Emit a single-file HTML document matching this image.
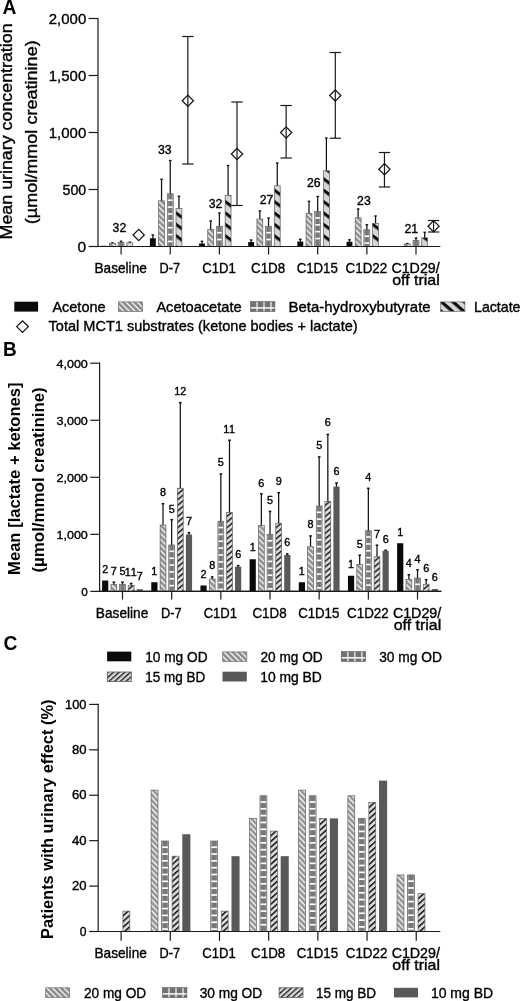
<!DOCTYPE html>
<html><head><meta charset="utf-8"><title>Figure</title>
<style>html,body{margin:0;padding:0;background:#fff}svg{display:block}text{font-family:"Liberation Sans", sans-serif;fill:#000;stroke:#000;stroke-width:0.36px}.b{stroke:none}</style>
</head><body>
<svg width="520" height="1001" viewBox="0 0 520 1001">
<rect width="520" height="1001" fill="#fff"/>
<defs>
<pattern id="aAc" patternUnits="userSpaceOnUse" x="0" y="1.504" width="40" height="4.079" patternTransform="rotate(44)"><rect width="40" height="4.079" fill="#949494"/><rect x="0" y="0" width="40" height="1.187" fill="#ffffff"/></pattern>
<pattern id="aLac" patternUnits="userSpaceOnUse" x="0" y="1.277" width="40" height="9.104" patternTransform="rotate(37)"><rect width="40" height="9.104" fill="#d6d6d6"/><rect x="0" y="0" width="40" height="3.035" fill="#0a0a0a"/></pattern>
<pattern id="bOD20" patternUnits="userSpaceOnUse" x="0" y="3.181" width="40" height="4.079" patternTransform="rotate(44)"><rect width="40" height="4.079" fill="#949494"/><rect x="0" y="0" width="40" height="1.187" fill="#ffffff"/></pattern>
<pattern id="bBD15" patternUnits="userSpaceOnUse" x="0" y="2.790" width="40" height="4.290" patternTransform="rotate(-40)"><rect width="40" height="4.290" fill="#d9d9d9"/><rect x="0" y="0" width="40" height="1.455" fill="#1a1a1a"/></pattern>
<pattern id="cOD20" patternUnits="userSpaceOnUse" x="0" y="3.366" width="40" height="3.939" patternTransform="rotate(46)"><rect width="40" height="3.939" fill="#949494"/><rect x="0" y="0" width="40" height="1.285" fill="#ffffff"/></pattern>
<pattern id="cBD15" patternUnits="userSpaceOnUse" x="0" y="4.109" width="40" height="4.236" patternTransform="rotate(-42)"><rect width="40" height="4.236" fill="#d9d9d9"/><rect x="0" y="0" width="40" height="1.486" fill="#111111"/></pattern>
<pattern id="lAc" patternUnits="userSpaceOnUse" x="0" y="2.970" width="40" height="4.031" patternTransform="rotate(45)"><rect width="40" height="4.031" fill="#8e8e8e"/><rect x="0" y="0" width="40" height="1.202" fill="#ffffff"/></pattern>
<pattern id="lAc2" patternUnits="userSpaceOnUse" x="0" y="3.642" width="40" height="4.031" patternTransform="rotate(45)"><rect width="40" height="4.031" fill="#8e8e8e"/><rect x="0" y="0" width="40" height="1.202" fill="#ffffff"/></pattern>
<pattern id="lAc3" patternUnits="userSpaceOnUse" x="0" y="3.783" width="40" height="4.031" patternTransform="rotate(45)"><rect width="40" height="4.031" fill="#8e8e8e"/><rect x="0" y="0" width="40" height="1.202" fill="#ffffff"/></pattern>
<pattern id="lLac" patternUnits="userSpaceOnUse" x="0" y="3.821" width="40" height="7.472" patternTransform="rotate(41)"><rect width="40" height="7.472" fill="#d6d6d6"/><rect x="0" y="0" width="40" height="3.170" fill="#0a0a0a"/></pattern>
<pattern id="lBD15" patternUnits="userSpaceOnUse" x="0" y="2.504" width="40" height="3.790" patternTransform="rotate(-42)"><rect width="40" height="3.790" fill="#d9d9d9"/><rect x="0" y="0" width="40" height="1.301" fill="#1a1a1a"/></pattern>
<pattern id="lBD15b" patternUnits="userSpaceOnUse" x="0" y="0.029" width="40" height="3.790" patternTransform="rotate(-42)"><rect width="40" height="3.790" fill="#d9d9d9"/><rect x="0" y="0" width="40" height="1.301" fill="#1a1a1a"/></pattern>
</defs>
<text x="2.6" y="13.85" font-size="20" text-anchor="start" font-weight="bold" class="b" textLength="13.9" lengthAdjust="spacingAndGlyphs">A</text>
<line x1="98.0" y1="17.9" x2="98.0" y2="247.05" stroke="#1a1a1a" stroke-width="1.2"/>
<line x1="97.4" y1="246.5" x2="440.2" y2="246.5" stroke="#1a1a1a" stroke-width="1.2"/>
<line x1="88.7" y1="246.5" x2="98.0" y2="246.5" stroke="#1a1a1a" stroke-width="1.2"/>
<text x="86.2" y="252.2" font-size="15.5" text-anchor="end">0</text>
<line x1="88.7" y1="189.5" x2="98.0" y2="189.5" stroke="#1a1a1a" stroke-width="1.2"/>
<text x="86.2" y="195.2" font-size="15.5" text-anchor="end" textLength="23.7" lengthAdjust="spacingAndGlyphs">500</text>
<line x1="88.7" y1="132.5" x2="98.0" y2="132.5" stroke="#1a1a1a" stroke-width="1.2"/>
<text x="86.2" y="138.2" font-size="15.5" text-anchor="end" textLength="37.4" lengthAdjust="spacingAndGlyphs">1,000</text>
<line x1="88.7" y1="75.5" x2="98.0" y2="75.5" stroke="#1a1a1a" stroke-width="1.2"/>
<text x="86.2" y="81.2" font-size="15.5" text-anchor="end" textLength="37.4" lengthAdjust="spacingAndGlyphs">1,500</text>
<line x1="88.7" y1="18.5" x2="98.0" y2="18.5" stroke="#1a1a1a" stroke-width="1.2"/>
<text x="86.2" y="24.2" font-size="15.5" text-anchor="end" textLength="37.4" lengthAdjust="spacingAndGlyphs">2,000</text>
<text x="12.3" y="131.4" font-size="16.8" text-anchor="middle" textLength="216" lengthAdjust="spacingAndGlyphs" transform="rotate(-90 12.3 131.4)">Mean urinary concentration</text>
<text x="36.6" y="132.3" font-size="16.8" text-anchor="middle" textLength="184" lengthAdjust="spacingAndGlyphs" transform="rotate(-90 36.6 132.3)">(µmol/mmol creatinine)</text>
<line x1="121.1" y1="246.5" x2="121.1" y2="254.6" stroke="#1a1a1a" stroke-width="1.2"/>
<line x1="170.25" y1="246.5" x2="170.25" y2="254.6" stroke="#1a1a1a" stroke-width="1.2"/>
<line x1="219.39999999999998" y1="246.5" x2="219.39999999999998" y2="254.6" stroke="#1a1a1a" stroke-width="1.2"/>
<line x1="268.54999999999995" y1="246.5" x2="268.54999999999995" y2="254.6" stroke="#1a1a1a" stroke-width="1.2"/>
<line x1="317.7" y1="246.5" x2="317.7" y2="254.6" stroke="#1a1a1a" stroke-width="1.2"/>
<line x1="366.85" y1="246.5" x2="366.85" y2="254.6" stroke="#1a1a1a" stroke-width="1.2"/>
<line x1="416.0" y1="246.5" x2="416.0" y2="254.6" stroke="#1a1a1a" stroke-width="1.2"/>
<text x="120.65" y="272.6" font-size="14.4" text-anchor="middle" textLength="52.4" lengthAdjust="spacingAndGlyphs">Baseline</text>
<text x="169.8" y="272.6" font-size="14.4" text-anchor="middle" textLength="20.6" lengthAdjust="spacingAndGlyphs">D-7</text>
<text x="218.95" y="272.6" font-size="14.4" text-anchor="middle" textLength="33.5" lengthAdjust="spacingAndGlyphs">C1D1</text>
<text x="268.1" y="272.6" font-size="14.4" text-anchor="middle" textLength="34.2" lengthAdjust="spacingAndGlyphs">C1D8</text>
<text x="317.25" y="272.6" font-size="14.4" text-anchor="middle" textLength="41.2" lengthAdjust="spacingAndGlyphs">C1D15</text>
<text x="366.4" y="272.6" font-size="14.4" text-anchor="middle" textLength="41.7" lengthAdjust="spacingAndGlyphs">C1D22</text>
<text x="415.55" y="272.6" font-size="14.4" text-anchor="middle" textLength="48.3" lengthAdjust="spacingAndGlyphs">C1D29/</text>
<text x="415.95" y="285.40000000000003" font-size="14.4" text-anchor="middle" textLength="47.6" lengthAdjust="spacingAndGlyphs">off trial</text>
<line x1="112.39999999999999" y1="242.70000000000002" x2="112.39999999999999" y2="244.55" stroke="#111" stroke-width="1.25"/>
<line x1="111.1" y1="242.9" x2="113.69999999999999" y2="242.9" stroke="#111" stroke-width="1.3"/>
<line x1="121.1" y1="241.05" x2="121.1" y2="243.55" stroke="#111" stroke-width="1.25"/>
<line x1="119.8" y1="241.25" x2="122.39999999999999" y2="241.25" stroke="#111" stroke-width="1.3"/>
<line x1="129.79999999999998" y1="241.9" x2="129.79999999999998" y2="243.8" stroke="#111" stroke-width="1.25"/>
<line x1="128.49999999999997" y1="242.1" x2="131.1" y2="242.1" stroke="#111" stroke-width="1.3"/>
<rect x="100.75" y="245.80" width="5.90" height="0.70" fill="#0a0a0a"/>
<pattern id="p1" patternUnits="userSpaceOnUse" x="0" y="2.816" width="40" height="4.079" patternTransform="rotate(44)"><rect width="40" height="4.079" fill="#949494"/><rect x="0" y="0" width="40" height="1.187" fill="#ffffff"/></pattern>
<rect x="109.45" y="243.55" width="5.90" height="2.95" fill="url(#p1)" stroke="#606060" stroke-width="0.7"/>
<rect x="118.15" y="242.55" width="5.90" height="3.95" fill="#787878" stroke="#606060" stroke-width="0.7"/>
<rect x="118.45" y="242.85" width="0.80" height="3.65" fill="#a4a4a4"/>
<rect x="122.95" y="242.85" width="0.80" height="3.65" fill="#a4a4a4"/>
<pattern id="p2" patternUnits="userSpaceOnUse" x="0" y="1.145" width="40" height="9.104" patternTransform="rotate(37)"><rect width="40" height="9.104" fill="#d6d6d6"/><rect x="0" y="0" width="40" height="3.035" fill="#0a0a0a"/></pattern>
<rect x="126.85" y="242.80" width="5.90" height="3.70" fill="url(#p2)" stroke="#606060" stroke-width="0.7"/>
<path d="M133.1 235L138.7 229.4L144.29999999999998 235L138.7 240.6Z" fill="none" stroke="#111" stroke-width="1.2"/>
<line x1="152.85" y1="234.8" x2="152.85" y2="239.3" stroke="#111" stroke-width="1.25"/>
<line x1="151.54999999999998" y1="235.0" x2="154.15" y2="235.0" stroke="#111" stroke-width="1.3"/>
<line x1="161.55" y1="179.05" x2="161.55" y2="201.8" stroke="#111" stroke-width="1.25"/>
<line x1="160.25" y1="179.25" x2="162.85000000000002" y2="179.25" stroke="#111" stroke-width="1.3"/>
<line x1="170.25" y1="160.3" x2="170.25" y2="194.8" stroke="#111" stroke-width="1.25"/>
<line x1="168.95" y1="160.5" x2="171.55" y2="160.5" stroke="#111" stroke-width="1.3"/>
<line x1="178.95" y1="196.05" x2="178.95" y2="209.55" stroke="#111" stroke-width="1.25"/>
<line x1="177.64999999999998" y1="196.25" x2="180.25" y2="196.25" stroke="#111" stroke-width="1.3"/>
<rect x="149.90" y="238.30" width="5.90" height="8.20" fill="#0a0a0a"/>
<pattern id="p3" patternUnits="userSpaceOnUse" x="0" y="1.303" width="40" height="4.079" patternTransform="rotate(44)"><rect width="40" height="4.079" fill="#949494"/><rect x="0" y="0" width="40" height="1.187" fill="#ffffff"/></pattern>
<rect x="158.60" y="200.80" width="5.90" height="45.70" fill="url(#p3)" stroke="#606060" stroke-width="0.7"/>
<rect x="167.30" y="193.80" width="5.90" height="52.70" fill="#787878" stroke="#606060" stroke-width="0.7"/>
<rect x="167.60" y="194.10" width="0.80" height="52.40" fill="#a4a4a4"/>
<rect x="172.10" y="194.10" width="0.80" height="52.40" fill="#a4a4a4"/>
<rect x="167.90" y="199.40" width="4.70" height="1.60" fill="#ffffff"/>
<rect x="167.90" y="206.27" width="4.70" height="1.60" fill="#ffffff"/>
<rect x="167.90" y="213.14" width="4.70" height="1.60" fill="#ffffff"/>
<rect x="167.90" y="220.01" width="4.70" height="1.60" fill="#ffffff"/>
<rect x="167.90" y="226.88" width="4.70" height="1.60" fill="#ffffff"/>
<rect x="167.90" y="233.75" width="4.70" height="1.60" fill="#ffffff"/>
<rect x="167.90" y="240.62" width="4.70" height="1.60" fill="#ffffff"/>
<pattern id="p4" patternUnits="userSpaceOnUse" x="0" y="7.984" width="40" height="9.104" patternTransform="rotate(37)"><rect width="40" height="9.104" fill="#d6d6d6"/><rect x="0" y="0" width="40" height="3.035" fill="#0a0a0a"/></pattern>
<rect x="176.00" y="208.55" width="5.90" height="37.95" fill="url(#p4)" stroke="#606060" stroke-width="0.7"/>
<line x1="187.85" y1="36.5" x2="187.85" y2="164" stroke="#1a1a1a" stroke-width="1.2"/>
<line x1="182.15" y1="36.5" x2="193.54999999999998" y2="36.5" stroke="#1a1a1a" stroke-width="1.2"/>
<line x1="182.15" y1="164" x2="193.54999999999998" y2="164" stroke="#1a1a1a" stroke-width="1.2"/>
<path d="M182.25 100.75L187.85 95.15L193.45 100.75L187.85 106.35Z" fill="none" stroke="#111" stroke-width="1.2"/>
<line x1="201.99999999999997" y1="241.05" x2="201.99999999999997" y2="244.55" stroke="#111" stroke-width="1.25"/>
<line x1="200.69999999999996" y1="241.25" x2="203.29999999999998" y2="241.25" stroke="#111" stroke-width="1.3"/>
<line x1="210.7" y1="220.8" x2="210.7" y2="230.55" stroke="#111" stroke-width="1.25"/>
<line x1="209.39999999999998" y1="221.0" x2="212.0" y2="221.0" stroke="#111" stroke-width="1.3"/>
<line x1="219.39999999999998" y1="212.8" x2="219.39999999999998" y2="227.3" stroke="#111" stroke-width="1.25"/>
<line x1="218.09999999999997" y1="213.0" x2="220.7" y2="213.0" stroke="#111" stroke-width="1.3"/>
<line x1="228.09999999999997" y1="165.3" x2="228.09999999999997" y2="196.3" stroke="#111" stroke-width="1.25"/>
<line x1="226.79999999999995" y1="165.5" x2="229.39999999999998" y2="165.5" stroke="#111" stroke-width="1.3"/>
<rect x="199.05" y="243.55" width="5.90" height="2.95" fill="#0a0a0a"/>
<pattern id="p5" patternUnits="userSpaceOnUse" x="0" y="3.868" width="40" height="4.079" patternTransform="rotate(44)"><rect width="40" height="4.079" fill="#949494"/><rect x="0" y="0" width="40" height="1.187" fill="#ffffff"/></pattern>
<rect x="207.75" y="229.55" width="5.90" height="16.95" fill="url(#p5)" stroke="#606060" stroke-width="0.7"/>
<rect x="216.45" y="226.30" width="5.90" height="20.20" fill="#787878" stroke="#606060" stroke-width="0.7"/>
<rect x="216.75" y="226.60" width="0.80" height="19.90" fill="#a4a4a4"/>
<rect x="221.25" y="226.60" width="0.80" height="19.90" fill="#a4a4a4"/>
<rect x="217.05" y="231.90" width="4.70" height="1.60" fill="#ffffff"/>
<rect x="217.05" y="238.77" width="4.70" height="1.60" fill="#ffffff"/>
<pattern id="p6" patternUnits="userSpaceOnUse" x="0" y="5.718" width="40" height="9.104" patternTransform="rotate(37)"><rect width="40" height="9.104" fill="#d6d6d6"/><rect x="0" y="0" width="40" height="3.035" fill="#0a0a0a"/></pattern>
<rect x="225.15" y="195.30" width="5.90" height="51.20" fill="url(#p6)" stroke="#606060" stroke-width="0.7"/>
<line x1="236.99999999999997" y1="102" x2="236.99999999999997" y2="205.5" stroke="#1a1a1a" stroke-width="1.2"/>
<line x1="231.29999999999998" y1="102" x2="242.69999999999996" y2="102" stroke="#1a1a1a" stroke-width="1.2"/>
<line x1="231.29999999999998" y1="205.5" x2="242.69999999999996" y2="205.5" stroke="#1a1a1a" stroke-width="1.2"/>
<path d="M231.39999999999998 154L236.99999999999997 148.4L242.59999999999997 154L236.99999999999997 159.6Z" fill="none" stroke="#111" stroke-width="1.2"/>
<line x1="251.14999999999995" y1="239.8" x2="251.14999999999995" y2="243.05" stroke="#111" stroke-width="1.25"/>
<line x1="249.84999999999994" y1="240.0" x2="252.44999999999996" y2="240.0" stroke="#111" stroke-width="1.3"/>
<line x1="259.84999999999997" y1="210.8" x2="259.84999999999997" y2="220.05" stroke="#111" stroke-width="1.25"/>
<line x1="258.54999999999995" y1="211.0" x2="261.15" y2="211.0" stroke="#111" stroke-width="1.3"/>
<line x1="268.54999999999995" y1="217.8" x2="268.54999999999995" y2="227.3" stroke="#111" stroke-width="1.25"/>
<line x1="267.24999999999994" y1="218.0" x2="269.84999999999997" y2="218.0" stroke="#111" stroke-width="1.3"/>
<line x1="277.24999999999994" y1="162.8" x2="277.24999999999994" y2="186.8" stroke="#111" stroke-width="1.25"/>
<line x1="275.94999999999993" y1="163.0" x2="278.54999999999995" y2="163.0" stroke="#111" stroke-width="1.3"/>
<rect x="248.20" y="242.05" width="5.90" height="4.45" fill="#0a0a0a"/>
<pattern id="p7" patternUnits="userSpaceOnUse" x="0" y="2.355" width="40" height="4.079" patternTransform="rotate(44)"><rect width="40" height="4.079" fill="#949494"/><rect x="0" y="0" width="40" height="1.187" fill="#ffffff"/></pattern>
<rect x="256.90" y="219.05" width="5.90" height="27.45" fill="url(#p7)" stroke="#606060" stroke-width="0.7"/>
<rect x="265.60" y="226.30" width="5.90" height="20.20" fill="#787878" stroke="#606060" stroke-width="0.7"/>
<rect x="265.90" y="226.60" width="0.80" height="19.90" fill="#a4a4a4"/>
<rect x="270.40" y="226.60" width="0.80" height="19.90" fill="#a4a4a4"/>
<rect x="266.20" y="231.90" width="4.70" height="1.60" fill="#ffffff"/>
<rect x="266.20" y="238.77" width="4.70" height="1.60" fill="#ffffff"/>
<pattern id="p8" patternUnits="userSpaceOnUse" x="0" y="3.452" width="40" height="9.104" patternTransform="rotate(37)"><rect width="40" height="9.104" fill="#d6d6d6"/><rect x="0" y="0" width="40" height="3.035" fill="#0a0a0a"/></pattern>
<rect x="274.30" y="185.80" width="5.90" height="60.70" fill="url(#p8)" stroke="#606060" stroke-width="0.7"/>
<line x1="286.1499999999999" y1="105.5" x2="286.1499999999999" y2="158" stroke="#1a1a1a" stroke-width="1.2"/>
<line x1="280.44999999999993" y1="105.5" x2="291.8499999999999" y2="105.5" stroke="#1a1a1a" stroke-width="1.2"/>
<line x1="280.44999999999993" y1="158" x2="291.8499999999999" y2="158" stroke="#1a1a1a" stroke-width="1.2"/>
<path d="M280.5499999999999 132.5L286.1499999999999 126.9L291.74999999999994 132.5L286.1499999999999 138.1Z" fill="none" stroke="#111" stroke-width="1.2"/>
<line x1="300.3" y1="239.05" x2="300.3" y2="242.55" stroke="#111" stroke-width="1.25"/>
<line x1="299.0" y1="239.25" x2="301.6" y2="239.25" stroke="#111" stroke-width="1.3"/>
<line x1="309.0" y1="201.05" x2="309.0" y2="214.3" stroke="#111" stroke-width="1.25"/>
<line x1="307.7" y1="201.25" x2="310.3" y2="201.25" stroke="#111" stroke-width="1.3"/>
<line x1="317.7" y1="196.3" x2="317.7" y2="212.55" stroke="#111" stroke-width="1.25"/>
<line x1="316.4" y1="196.5" x2="319.0" y2="196.5" stroke="#111" stroke-width="1.3"/>
<line x1="326.4" y1="137.8" x2="326.4" y2="171.8" stroke="#111" stroke-width="1.25"/>
<line x1="325.09999999999997" y1="138.0" x2="327.7" y2="138.0" stroke="#111" stroke-width="1.3"/>
<rect x="297.35" y="241.55" width="5.90" height="4.95" fill="#0a0a0a"/>
<pattern id="p9" patternUnits="userSpaceOnUse" x="0" y="0.842" width="40" height="4.079" patternTransform="rotate(44)"><rect width="40" height="4.079" fill="#949494"/><rect x="0" y="0" width="40" height="1.187" fill="#ffffff"/></pattern>
<rect x="306.05" y="213.30" width="5.90" height="33.20" fill="url(#p9)" stroke="#606060" stroke-width="0.7"/>
<rect x="314.75" y="211.55" width="5.90" height="34.95" fill="#787878" stroke="#606060" stroke-width="0.7"/>
<rect x="315.05" y="211.85" width="0.80" height="34.65" fill="#a4a4a4"/>
<rect x="319.55" y="211.85" width="0.80" height="34.65" fill="#a4a4a4"/>
<rect x="315.35" y="217.15" width="4.70" height="1.60" fill="#ffffff"/>
<rect x="315.35" y="224.02" width="4.70" height="1.60" fill="#ffffff"/>
<rect x="315.35" y="230.89" width="4.70" height="1.60" fill="#ffffff"/>
<rect x="315.35" y="237.76" width="4.70" height="1.60" fill="#ffffff"/>
<pattern id="p10" patternUnits="userSpaceOnUse" x="0" y="1.186" width="40" height="9.104" patternTransform="rotate(37)"><rect width="40" height="9.104" fill="#d6d6d6"/><rect x="0" y="0" width="40" height="3.035" fill="#0a0a0a"/></pattern>
<rect x="323.45" y="170.80" width="5.90" height="75.70" fill="url(#p10)" stroke="#606060" stroke-width="0.7"/>
<line x1="335.29999999999995" y1="52.5" x2="335.29999999999995" y2="138.25" stroke="#1a1a1a" stroke-width="1.2"/>
<line x1="329.59999999999997" y1="52.5" x2="340.99999999999994" y2="52.5" stroke="#1a1a1a" stroke-width="1.2"/>
<line x1="329.59999999999997" y1="138.25" x2="340.99999999999994" y2="138.25" stroke="#1a1a1a" stroke-width="1.2"/>
<path d="M329.69999999999993 95.5L335.29999999999995 89.9L340.9 95.5L335.29999999999995 101.1Z" fill="none" stroke="#111" stroke-width="1.2"/>
<line x1="349.45000000000005" y1="239.55" x2="349.45000000000005" y2="242.8" stroke="#111" stroke-width="1.25"/>
<line x1="348.15000000000003" y1="239.75" x2="350.75000000000006" y2="239.75" stroke="#111" stroke-width="1.3"/>
<line x1="358.15000000000003" y1="208.8" x2="358.15000000000003" y2="218.8" stroke="#111" stroke-width="1.25"/>
<line x1="356.85" y1="209.0" x2="359.45000000000005" y2="209.0" stroke="#111" stroke-width="1.3"/>
<line x1="366.85" y1="224.55" x2="366.85" y2="230.8" stroke="#111" stroke-width="1.25"/>
<line x1="365.55" y1="224.75" x2="368.15000000000003" y2="224.75" stroke="#111" stroke-width="1.3"/>
<line x1="375.55" y1="215.8" x2="375.55" y2="224.3" stroke="#111" stroke-width="1.25"/>
<line x1="374.25" y1="216.0" x2="376.85" y2="216.0" stroke="#111" stroke-width="1.3"/>
<rect x="346.50" y="241.80" width="5.90" height="4.70" fill="#0a0a0a"/>
<pattern id="p11" patternUnits="userSpaceOnUse" x="0" y="3.407" width="40" height="4.079" patternTransform="rotate(44)"><rect width="40" height="4.079" fill="#949494"/><rect x="0" y="0" width="40" height="1.187" fill="#ffffff"/></pattern>
<rect x="355.20" y="217.80" width="5.90" height="28.70" fill="url(#p11)" stroke="#606060" stroke-width="0.7"/>
<rect x="363.90" y="229.80" width="5.90" height="16.70" fill="#787878" stroke="#606060" stroke-width="0.7"/>
<rect x="364.20" y="230.10" width="0.80" height="16.40" fill="#a4a4a4"/>
<rect x="368.70" y="230.10" width="0.80" height="16.40" fill="#a4a4a4"/>
<rect x="364.50" y="235.40" width="4.70" height="1.60" fill="#ffffff"/>
<rect x="364.50" y="242.27" width="4.70" height="1.60" fill="#ffffff"/>
<pattern id="p12" patternUnits="userSpaceOnUse" x="0" y="8.025" width="40" height="9.104" patternTransform="rotate(37)"><rect width="40" height="9.104" fill="#d6d6d6"/><rect x="0" y="0" width="40" height="3.035" fill="#0a0a0a"/></pattern>
<rect x="372.60" y="223.30" width="5.90" height="23.20" fill="url(#p12)" stroke="#606060" stroke-width="0.7"/>
<line x1="384.45" y1="152.5" x2="384.45" y2="187" stroke="#1a1a1a" stroke-width="1.2"/>
<line x1="378.75" y1="152.5" x2="390.15" y2="152.5" stroke="#1a1a1a" stroke-width="1.2"/>
<line x1="378.75" y1="187" x2="390.15" y2="187" stroke="#1a1a1a" stroke-width="1.2"/>
<path d="M378.84999999999997 169.25L384.45 163.65L390.05 169.25L384.45 174.85Z" fill="none" stroke="#111" stroke-width="1.2"/>
<line x1="407.3" y1="243.3" x2="407.3" y2="245.05" stroke="#111" stroke-width="1.25"/>
<line x1="406.0" y1="243.5" x2="408.6" y2="243.5" stroke="#111" stroke-width="1.3"/>
<line x1="416.0" y1="237.8" x2="416.0" y2="241.3" stroke="#111" stroke-width="1.25"/>
<line x1="414.7" y1="238.0" x2="417.3" y2="238.0" stroke="#111" stroke-width="1.3"/>
<line x1="424.7" y1="232.05" x2="424.7" y2="238.8" stroke="#111" stroke-width="1.25"/>
<line x1="423.4" y1="232.25" x2="426.0" y2="232.25" stroke="#111" stroke-width="1.3"/>
<rect x="395.65" y="246.05" width="5.90" height="0.45" fill="#0a0a0a"/>
<pattern id="p13" patternUnits="userSpaceOnUse" x="0" y="1.894" width="40" height="4.079" patternTransform="rotate(44)"><rect width="40" height="4.079" fill="#949494"/><rect x="0" y="0" width="40" height="1.187" fill="#ffffff"/></pattern>
<rect x="404.35" y="244.05" width="5.90" height="2.45" fill="url(#p13)" stroke="#606060" stroke-width="0.7"/>
<rect x="413.05" y="240.30" width="5.90" height="6.20" fill="#787878" stroke="#606060" stroke-width="0.7"/>
<rect x="413.35" y="240.60" width="0.80" height="5.90" fill="#a4a4a4"/>
<rect x="417.85" y="240.60" width="0.80" height="5.90" fill="#a4a4a4"/>
<pattern id="p14" patternUnits="userSpaceOnUse" x="0" y="5.759" width="40" height="9.104" patternTransform="rotate(37)"><rect width="40" height="9.104" fill="#d6d6d6"/><rect x="0" y="0" width="40" height="3.035" fill="#0a0a0a"/></pattern>
<rect x="421.75" y="237.80" width="5.90" height="8.70" fill="url(#p14)" stroke="#606060" stroke-width="0.7"/>
<line x1="433.59999999999997" y1="220.5" x2="433.59999999999997" y2="232" stroke="#1a1a1a" stroke-width="1.2"/>
<line x1="427.9" y1="220.5" x2="439.29999999999995" y2="220.5" stroke="#1a1a1a" stroke-width="1.2"/>
<line x1="427.9" y1="232" x2="439.29999999999995" y2="232" stroke="#1a1a1a" stroke-width="1.2"/>
<path d="M427.99999999999994 226.25L433.59999999999997 220.65L439.2 226.25L433.59999999999997 231.85Z" fill="none" stroke="#111" stroke-width="1.2"/>
<line x1="97.4" y1="246.5" x2="440.2" y2="246.5" stroke="#1a1a1a" stroke-width="1.2"/>
<text x="119.4" y="232" font-size="12.2" text-anchor="middle">32</text>
<text x="164.75" y="153.75" font-size="12.2" text-anchor="middle">33</text>
<text x="215.5" y="207.5" font-size="12.2" text-anchor="middle">32</text>
<text x="266.5" y="204.25" font-size="12.2" text-anchor="middle">27</text>
<text x="313.75" y="187" font-size="12.2" text-anchor="middle">26</text>
<text x="363.9" y="205" font-size="12.2" text-anchor="middle">23</text>
<text x="411.25" y="233" font-size="12.2" text-anchor="middle">21</text>
<rect x="14.30" y="301.70" width="23.80" height="9.90" fill="#0a0a0a"/>
<text x="52.4" y="311.8" font-size="14.5" text-anchor="start" textLength="53.2" lengthAdjust="spacingAndGlyphs">Acetone</text>
<rect x="118.30" y="301.90" width="24.20" height="9.50" fill="url(#lAc)" stroke="#6e6e6e" stroke-width="0.7"/>
<text x="156.4" y="311.8" font-size="14.5" text-anchor="start" textLength="85.2" lengthAdjust="spacingAndGlyphs">Acetoacetate</text>
<rect x="250.50" y="301.60" width="24.40" height="10.00" fill="#727272" stroke="#5e5e5e" stroke-width="0.6"/>
<rect x="256.25" y="301.90" width="1.50" height="9.40" fill="#dedede"/>
<rect x="263.25" y="301.90" width="1.50" height="9.40" fill="#dedede"/>
<rect x="270.25" y="301.90" width="1.50" height="9.40" fill="#dedede"/>
<rect x="250.90" y="307.15" width="23.60" height="1.50" fill="#fbfbfb"/>
<text x="288.6" y="311.8" font-size="14.5" text-anchor="start" textLength="142" lengthAdjust="spacingAndGlyphs">Beta-hydroxybutyrate</text>
<rect x="440.60" y="301.90" width="24.30" height="9.50" fill="url(#lLac)" stroke="#6e6e6e" stroke-width="0.7"/>
<text x="474" y="311.8" font-size="14.5" text-anchor="start" textLength="46.5" lengthAdjust="spacingAndGlyphs">Lactate</text>
<path d="M16.7 326.6L22.5 320.8L28.3 326.6L22.5 332.40000000000003Z" fill="none" stroke="#111" stroke-width="1.3"/>
<text x="48.6" y="331.1" font-size="14.5" text-anchor="start" textLength="309" lengthAdjust="spacingAndGlyphs">Total MCT1 substrates (ketone bodies + lactate)</text>
<text x="3.1" y="356.1" font-size="19.6" text-anchor="start" font-weight="bold" class="b" textLength="13.7" lengthAdjust="spacingAndGlyphs">B</text>
<line x1="99.6" y1="362.59999999999997" x2="99.6" y2="591.9499999999999" stroke="#1a1a1a" stroke-width="1.2"/>
<line x1="99.0" y1="591.4" x2="441.3" y2="591.4" stroke="#1a1a1a" stroke-width="1.2"/>
<line x1="90.3" y1="591.4" x2="99.6" y2="591.4" stroke="#1a1a1a" stroke-width="1.2"/>
<text x="87.8" y="596.1" font-size="11.7" text-anchor="end">0</text>
<line x1="90.3" y1="534.35" x2="99.6" y2="534.35" stroke="#1a1a1a" stroke-width="1.2"/>
<text x="87.8" y="539.0500000000001" font-size="11.7" text-anchor="end" textLength="31.3" lengthAdjust="spacingAndGlyphs">1,000</text>
<line x1="90.3" y1="477.29999999999995" x2="99.6" y2="477.29999999999995" stroke="#1a1a1a" stroke-width="1.2"/>
<text x="87.8" y="481.99999999999994" font-size="11.7" text-anchor="end" textLength="31.3" lengthAdjust="spacingAndGlyphs">2,000</text>
<line x1="90.3" y1="420.25" x2="99.6" y2="420.25" stroke="#1a1a1a" stroke-width="1.2"/>
<text x="87.8" y="424.95" font-size="11.7" text-anchor="end" textLength="31.3" lengthAdjust="spacingAndGlyphs">3,000</text>
<line x1="90.3" y1="363.2" x2="99.6" y2="363.2" stroke="#1a1a1a" stroke-width="1.2"/>
<text x="87.8" y="367.9" font-size="11.7" text-anchor="end" textLength="31.3" lengthAdjust="spacingAndGlyphs">4,000</text>
<text x="20.4" y="478.7" font-size="16.6" text-anchor="middle" font-weight="bold" class="b" textLength="192.5" lengthAdjust="spacingAndGlyphs" transform="rotate(-90 20.4 478.7)">Mean [lactate + ketones]</text>
<text x="44.4" y="479.9" font-size="16.6" text-anchor="middle" font-weight="bold" class="b" textLength="185.3" lengthAdjust="spacingAndGlyphs" transform="rotate(-90 44.4 479.9)">(µmol/mmol creatinine)</text>
<line x1="122.5" y1="591.4" x2="122.5" y2="599.6" stroke="#1a1a1a" stroke-width="1.2"/>
<line x1="171.67000000000002" y1="591.4" x2="171.67000000000002" y2="599.6" stroke="#1a1a1a" stroke-width="1.2"/>
<line x1="220.84" y1="591.4" x2="220.84" y2="599.6" stroke="#1a1a1a" stroke-width="1.2"/>
<line x1="270.01" y1="591.4" x2="270.01" y2="599.6" stroke="#1a1a1a" stroke-width="1.2"/>
<line x1="319.18" y1="591.4" x2="319.18" y2="599.6" stroke="#1a1a1a" stroke-width="1.2"/>
<line x1="368.35" y1="591.4" x2="368.35" y2="599.6" stroke="#1a1a1a" stroke-width="1.2"/>
<line x1="417.52" y1="591.4" x2="417.52" y2="599.6" stroke="#1a1a1a" stroke-width="1.2"/>
<text x="122.05" y="617.6" font-size="14.4" text-anchor="middle" textLength="52.4" lengthAdjust="spacingAndGlyphs">Baseline</text>
<text x="171.22" y="617.6" font-size="14.4" text-anchor="middle" textLength="20.6" lengthAdjust="spacingAndGlyphs">D-7</text>
<text x="220.39" y="617.6" font-size="14.4" text-anchor="middle" textLength="33.5" lengthAdjust="spacingAndGlyphs">C1D1</text>
<text x="269.56" y="617.6" font-size="14.4" text-anchor="middle" textLength="34.2" lengthAdjust="spacingAndGlyphs">C1D8</text>
<text x="318.73" y="617.6" font-size="14.4" text-anchor="middle" textLength="41.2" lengthAdjust="spacingAndGlyphs">C1D15</text>
<text x="367.9" y="617.6" font-size="14.4" text-anchor="middle" textLength="41.7" lengthAdjust="spacingAndGlyphs">C1D22</text>
<text x="417.07" y="617.6" font-size="14.4" text-anchor="middle" textLength="48.3" lengthAdjust="spacingAndGlyphs">C1D29/</text>
<text x="417.47" y="630.3000000000001" font-size="14.4" text-anchor="middle" textLength="47.6" lengthAdjust="spacingAndGlyphs">off trial</text>
<rect x="102.10" y="580.50" width="6.20" height="10.90" fill="#0a0a0a"/>
<text x="105.2" y="573.25" font-size="10.8" text-anchor="middle">2</text>
<line x1="113.85" y1="582" x2="113.85" y2="585.5" stroke="#111" stroke-width="1.25"/>
<line x1="112.55" y1="582.2" x2="115.14999999999999" y2="582.2" stroke="#111" stroke-width="1.5"/>
<pattern id="p15" patternUnits="userSpaceOnUse" x="0" y="0.002" width="40" height="4.079" patternTransform="rotate(44)"><rect width="40" height="4.079" fill="#949494"/><rect x="0" y="0" width="40" height="1.187" fill="#ffffff"/></pattern>
<rect x="110.95" y="584.50" width="5.80" height="6.90" fill="url(#p15)" stroke="#606060" stroke-width="0.7"/>
<text x="113.85" y="574.5" font-size="10.8" text-anchor="middle">7</text>
<line x1="122.5" y1="582" x2="122.5" y2="585.25" stroke="#111" stroke-width="1.25"/>
<line x1="121.2" y1="582.2" x2="123.8" y2="582.2" stroke="#111" stroke-width="1.5"/>
<rect x="119.60" y="584.25" width="5.80" height="7.15" fill="#787878" stroke="#606060" stroke-width="0.7"/>
<rect x="119.90" y="584.55" width="0.80" height="6.85" fill="#a4a4a4"/>
<rect x="124.30" y="584.55" width="0.80" height="6.85" fill="#a4a4a4"/>
<text x="122.5" y="574.5" font-size="10.8" text-anchor="middle">5</text>
<line x1="131.15" y1="583.25" x2="131.15" y2="586.25" stroke="#111" stroke-width="1.25"/>
<line x1="129.85" y1="583.45" x2="132.45000000000002" y2="583.45" stroke="#111" stroke-width="1.5"/>
<pattern id="p16" patternUnits="userSpaceOnUse" x="0" y="1.290" width="40" height="4.290" patternTransform="rotate(-40)"><rect width="40" height="4.290" fill="#d9d9d9"/><rect x="0" y="0" width="40" height="1.455" fill="#1a1a1a"/></pattern>
<rect x="128.25" y="585.25" width="5.80" height="6.15" fill="url(#p16)" stroke="#606060" stroke-width="0.7"/>
<text x="131.15" y="576.25" font-size="10.8" text-anchor="middle" letter-spacing="0.7">11</text>
<rect x="136.70" y="589.25" width="6.20" height="2.15" fill="#595959"/>
<text x="139.8" y="580" font-size="10.8" text-anchor="middle">7</text>
<rect x="151.27" y="582.25" width="6.20" height="9.15" fill="#0a0a0a"/>
<text x="154.37" y="574.5" font-size="10.8" text-anchor="middle">1</text>
<line x1="163.02" y1="503.5" x2="163.02" y2="526" stroke="#111" stroke-width="1.25"/>
<line x1="161.72" y1="503.7" x2="164.32000000000002" y2="503.7" stroke="#111" stroke-width="1.5"/>
<pattern id="p17" patternUnits="userSpaceOnUse" x="0" y="2.553" width="40" height="4.079" patternTransform="rotate(44)"><rect width="40" height="4.079" fill="#949494"/><rect x="0" y="0" width="40" height="1.187" fill="#ffffff"/></pattern>
<rect x="160.12" y="525.00" width="5.80" height="66.40" fill="url(#p17)" stroke="#606060" stroke-width="0.7"/>
<text x="163.02" y="496" font-size="10.8" text-anchor="middle">8</text>
<line x1="171.67000000000002" y1="519.5" x2="171.67000000000002" y2="546" stroke="#111" stroke-width="1.25"/>
<line x1="170.37" y1="519.7" x2="172.97000000000003" y2="519.7" stroke="#111" stroke-width="1.5"/>
<rect x="168.77" y="545.00" width="5.80" height="46.40" fill="#787878" stroke="#606060" stroke-width="0.7"/>
<rect x="169.07" y="545.30" width="0.80" height="46.10" fill="#a4a4a4"/>
<rect x="173.47" y="545.30" width="0.80" height="46.10" fill="#a4a4a4"/>
<rect x="169.37" y="550.50" width="4.60" height="1.60" fill="#ffffff"/>
<rect x="169.37" y="557.37" width="4.60" height="1.60" fill="#ffffff"/>
<rect x="169.37" y="564.24" width="4.60" height="1.60" fill="#ffffff"/>
<rect x="169.37" y="571.11" width="4.60" height="1.60" fill="#ffffff"/>
<rect x="169.37" y="577.98" width="4.60" height="1.60" fill="#ffffff"/>
<rect x="169.37" y="584.85" width="4.60" height="1.60" fill="#ffffff"/>
<text x="171.67000000000002" y="512.5" font-size="10.8" text-anchor="middle">5</text>
<line x1="180.32000000000002" y1="402.5" x2="180.32000000000002" y2="489.25" stroke="#111" stroke-width="1.25"/>
<line x1="179.02" y1="402.7" x2="181.62000000000003" y2="402.7" stroke="#111" stroke-width="1.5"/>
<pattern id="p18" patternUnits="userSpaceOnUse" x="0" y="2.867" width="40" height="4.290" patternTransform="rotate(-40)"><rect width="40" height="4.290" fill="#d9d9d9"/><rect x="0" y="0" width="40" height="1.455" fill="#1a1a1a"/></pattern>
<rect x="177.42" y="488.25" width="5.80" height="103.15" fill="url(#p18)" stroke="#606060" stroke-width="0.7"/>
<text x="180.32000000000002" y="395" font-size="10.8" text-anchor="middle">12</text>
<line x1="188.97000000000003" y1="532.5" x2="188.97000000000003" y2="535.5" stroke="#111" stroke-width="1.25"/>
<line x1="187.67000000000002" y1="532.7" x2="190.27000000000004" y2="532.7" stroke="#111" stroke-width="1.5"/>
<rect x="185.87" y="534.50" width="6.20" height="56.90" fill="#595959"/>
<text x="188.97000000000003" y="525" font-size="10.8" text-anchor="middle">7</text>
<rect x="200.44" y="585.50" width="6.20" height="5.90" fill="#0a0a0a"/>
<text x="203.54" y="577.5" font-size="10.8" text-anchor="middle">2</text>
<line x1="212.19" y1="576.75" x2="212.19" y2="580" stroke="#111" stroke-width="1.25"/>
<line x1="210.89" y1="576.95" x2="213.49" y2="576.95" stroke="#111" stroke-width="1.5"/>
<pattern id="p19" patternUnits="userSpaceOnUse" x="0" y="1.026" width="40" height="4.079" patternTransform="rotate(44)"><rect width="40" height="4.079" fill="#949494"/><rect x="0" y="0" width="40" height="1.187" fill="#ffffff"/></pattern>
<rect x="209.29" y="579.00" width="5.80" height="12.40" fill="url(#p19)" stroke="#606060" stroke-width="0.7"/>
<text x="212.19" y="568.75" font-size="10.8" text-anchor="middle">8</text>
<line x1="220.84" y1="473.75" x2="220.84" y2="522.25" stroke="#111" stroke-width="1.25"/>
<line x1="219.54" y1="473.95" x2="222.14000000000001" y2="473.95" stroke="#111" stroke-width="1.5"/>
<rect x="217.94" y="521.25" width="5.80" height="70.15" fill="#787878" stroke="#606060" stroke-width="0.7"/>
<rect x="218.24" y="521.55" width="0.80" height="69.85" fill="#a4a4a4"/>
<rect x="222.64" y="521.55" width="0.80" height="69.85" fill="#a4a4a4"/>
<rect x="218.54" y="526.75" width="4.60" height="1.60" fill="#ffffff"/>
<rect x="218.54" y="533.62" width="4.60" height="1.60" fill="#ffffff"/>
<rect x="218.54" y="540.49" width="4.60" height="1.60" fill="#ffffff"/>
<rect x="218.54" y="547.36" width="4.60" height="1.60" fill="#ffffff"/>
<rect x="218.54" y="554.23" width="4.60" height="1.60" fill="#ffffff"/>
<rect x="218.54" y="561.10" width="4.60" height="1.60" fill="#ffffff"/>
<rect x="218.54" y="567.97" width="4.60" height="1.60" fill="#ffffff"/>
<rect x="218.54" y="574.84" width="4.60" height="1.60" fill="#ffffff"/>
<rect x="218.54" y="581.71" width="4.60" height="1.60" fill="#ffffff"/>
<rect x="218.54" y="588.58" width="4.60" height="1.60" fill="#ffffff"/>
<text x="220.84" y="465.75" font-size="10.8" text-anchor="middle">5</text>
<line x1="229.49" y1="440" x2="229.49" y2="513.5" stroke="#111" stroke-width="1.25"/>
<line x1="228.19" y1="440.2" x2="230.79000000000002" y2="440.2" stroke="#111" stroke-width="1.5"/>
<pattern id="p20" patternUnits="userSpaceOnUse" x="0" y="0.154" width="40" height="4.290" patternTransform="rotate(-40)"><rect width="40" height="4.290" fill="#d9d9d9"/><rect x="0" y="0" width="40" height="1.455" fill="#1a1a1a"/></pattern>
<rect x="226.59" y="512.50" width="5.80" height="78.90" fill="url(#p20)" stroke="#606060" stroke-width="0.7"/>
<text x="229.49" y="432.5" font-size="10.8" text-anchor="middle" letter-spacing="0.7">11</text>
<line x1="238.14000000000001" y1="565.5" x2="238.14000000000001" y2="567.75" stroke="#111" stroke-width="1.25"/>
<line x1="236.84" y1="565.7" x2="239.44000000000003" y2="565.7" stroke="#111" stroke-width="1.5"/>
<rect x="235.04" y="566.75" width="6.20" height="24.65" fill="#595959"/>
<text x="238.14000000000001" y="558" font-size="10.8" text-anchor="middle">6</text>
<rect x="249.61" y="559.25" width="6.20" height="32.15" fill="#0a0a0a"/>
<text x="252.70999999999998" y="551.25" font-size="10.8" text-anchor="middle">1</text>
<line x1="261.36" y1="493.6" x2="261.36" y2="526.5" stroke="#111" stroke-width="1.25"/>
<line x1="260.06" y1="493.8" x2="262.66" y2="493.8" stroke="#111" stroke-width="1.5"/>
<pattern id="p21" patternUnits="userSpaceOnUse" x="0" y="3.578" width="40" height="4.079" patternTransform="rotate(44)"><rect width="40" height="4.079" fill="#949494"/><rect x="0" y="0" width="40" height="1.187" fill="#ffffff"/></pattern>
<rect x="258.46" y="525.50" width="5.80" height="65.90" fill="url(#p21)" stroke="#606060" stroke-width="0.7"/>
<text x="261.36" y="486.5" font-size="10.8" text-anchor="middle">6</text>
<line x1="270.01" y1="511.2" x2="270.01" y2="535.5" stroke="#111" stroke-width="1.25"/>
<line x1="268.71" y1="511.4" x2="271.31" y2="511.4" stroke="#111" stroke-width="1.5"/>
<rect x="267.11" y="534.50" width="5.80" height="56.90" fill="#787878" stroke="#606060" stroke-width="0.7"/>
<rect x="267.41" y="534.80" width="0.80" height="56.60" fill="#a4a4a4"/>
<rect x="271.81" y="534.80" width="0.80" height="56.60" fill="#a4a4a4"/>
<rect x="267.71" y="540.00" width="4.60" height="1.60" fill="#ffffff"/>
<rect x="267.71" y="546.87" width="4.60" height="1.60" fill="#ffffff"/>
<rect x="267.71" y="553.74" width="4.60" height="1.60" fill="#ffffff"/>
<rect x="267.71" y="560.61" width="4.60" height="1.60" fill="#ffffff"/>
<rect x="267.71" y="567.48" width="4.60" height="1.60" fill="#ffffff"/>
<rect x="267.71" y="574.35" width="4.60" height="1.60" fill="#ffffff"/>
<rect x="267.71" y="581.22" width="4.60" height="1.60" fill="#ffffff"/>
<rect x="267.71" y="588.09" width="4.60" height="1.60" fill="#ffffff"/>
<text x="270.01" y="503.8" font-size="10.8" text-anchor="middle">5</text>
<line x1="278.65999999999997" y1="492.5" x2="278.65999999999997" y2="524.25" stroke="#111" stroke-width="1.25"/>
<line x1="277.35999999999996" y1="492.7" x2="279.96" y2="492.7" stroke="#111" stroke-width="1.5"/>
<pattern id="p22" patternUnits="userSpaceOnUse" x="0" y="1.731" width="40" height="4.290" patternTransform="rotate(-40)"><rect width="40" height="4.290" fill="#d9d9d9"/><rect x="0" y="0" width="40" height="1.455" fill="#1a1a1a"/></pattern>
<rect x="275.76" y="523.25" width="5.80" height="68.15" fill="url(#p22)" stroke="#606060" stroke-width="0.7"/>
<text x="278.65999999999997" y="485" font-size="10.8" text-anchor="middle">9</text>
<line x1="287.31" y1="553.75" x2="287.31" y2="556" stroke="#111" stroke-width="1.25"/>
<line x1="286.01" y1="553.95" x2="288.61" y2="553.95" stroke="#111" stroke-width="1.5"/>
<rect x="284.21" y="555.00" width="6.20" height="36.40" fill="#595959"/>
<text x="287.31" y="546.25" font-size="10.8" text-anchor="middle">6</text>
<rect x="298.78" y="582.25" width="6.20" height="9.15" fill="#0a0a0a"/>
<text x="301.88" y="574.5" font-size="10.8" text-anchor="middle">1</text>
<line x1="310.53000000000003" y1="535.75" x2="310.53000000000003" y2="547.75" stroke="#111" stroke-width="1.25"/>
<line x1="309.23" y1="535.95" x2="311.83000000000004" y2="535.95" stroke="#111" stroke-width="1.5"/>
<pattern id="p23" patternUnits="userSpaceOnUse" x="0" y="2.051" width="40" height="4.079" patternTransform="rotate(44)"><rect width="40" height="4.079" fill="#949494"/><rect x="0" y="0" width="40" height="1.187" fill="#ffffff"/></pattern>
<rect x="307.63" y="546.75" width="5.80" height="44.65" fill="url(#p23)" stroke="#606060" stroke-width="0.7"/>
<text x="310.53000000000003" y="528.25" font-size="10.8" text-anchor="middle">8</text>
<line x1="319.18" y1="456.75" x2="319.18" y2="507" stroke="#111" stroke-width="1.25"/>
<line x1="317.88" y1="456.95" x2="320.48" y2="456.95" stroke="#111" stroke-width="1.5"/>
<rect x="316.28" y="506.00" width="5.80" height="85.40" fill="#787878" stroke="#606060" stroke-width="0.7"/>
<rect x="316.58" y="506.30" width="0.80" height="85.10" fill="#a4a4a4"/>
<rect x="320.98" y="506.30" width="0.80" height="85.10" fill="#a4a4a4"/>
<rect x="316.88" y="511.50" width="4.60" height="1.60" fill="#ffffff"/>
<rect x="316.88" y="518.37" width="4.60" height="1.60" fill="#ffffff"/>
<rect x="316.88" y="525.24" width="4.60" height="1.60" fill="#ffffff"/>
<rect x="316.88" y="532.11" width="4.60" height="1.60" fill="#ffffff"/>
<rect x="316.88" y="538.98" width="4.60" height="1.60" fill="#ffffff"/>
<rect x="316.88" y="545.85" width="4.60" height="1.60" fill="#ffffff"/>
<rect x="316.88" y="552.72" width="4.60" height="1.60" fill="#ffffff"/>
<rect x="316.88" y="559.59" width="4.60" height="1.60" fill="#ffffff"/>
<rect x="316.88" y="566.46" width="4.60" height="1.60" fill="#ffffff"/>
<rect x="316.88" y="573.33" width="4.60" height="1.60" fill="#ffffff"/>
<rect x="316.88" y="580.20" width="4.60" height="1.60" fill="#ffffff"/>
<rect x="316.88" y="587.07" width="4.60" height="1.60" fill="#ffffff"/>
<text x="319.18" y="448.75" font-size="10.8" text-anchor="middle">5</text>
<line x1="327.83" y1="434.25" x2="327.83" y2="502.5" stroke="#111" stroke-width="1.25"/>
<line x1="326.53" y1="434.45" x2="329.13" y2="434.45" stroke="#111" stroke-width="1.5"/>
<pattern id="p24" patternUnits="userSpaceOnUse" x="0" y="3.308" width="40" height="4.290" patternTransform="rotate(-40)"><rect width="40" height="4.290" fill="#d9d9d9"/><rect x="0" y="0" width="40" height="1.455" fill="#1a1a1a"/></pattern>
<rect x="324.93" y="501.50" width="5.80" height="89.90" fill="url(#p24)" stroke="#606060" stroke-width="0.7"/>
<text x="327.83" y="426.25" font-size="10.8" text-anchor="middle">6</text>
<line x1="336.48" y1="482.8" x2="336.48" y2="487.6" stroke="#111" stroke-width="1.25"/>
<line x1="335.18" y1="483.0" x2="337.78000000000003" y2="483.0" stroke="#111" stroke-width="1.5"/>
<rect x="333.38" y="486.60" width="6.20" height="104.80" fill="#595959"/>
<text x="336.48" y="475.3" font-size="10.8" text-anchor="middle">6</text>
<rect x="347.95" y="575.75" width="6.20" height="15.65" fill="#0a0a0a"/>
<text x="351.05" y="568" font-size="10.8" text-anchor="middle">1</text>
<line x1="359.70000000000005" y1="555" x2="359.70000000000005" y2="565.5" stroke="#111" stroke-width="1.25"/>
<line x1="358.40000000000003" y1="555.2" x2="361.00000000000006" y2="555.2" stroke="#111" stroke-width="1.5"/>
<pattern id="p25" patternUnits="userSpaceOnUse" x="0" y="0.524" width="40" height="4.079" patternTransform="rotate(44)"><rect width="40" height="4.079" fill="#949494"/><rect x="0" y="0" width="40" height="1.187" fill="#ffffff"/></pattern>
<rect x="356.80" y="564.50" width="5.80" height="26.90" fill="url(#p25)" stroke="#606060" stroke-width="0.7"/>
<text x="359.70000000000005" y="547.5" font-size="10.8" text-anchor="middle">5</text>
<line x1="368.35" y1="488.1" x2="368.35" y2="531.75" stroke="#111" stroke-width="1.25"/>
<line x1="367.05" y1="488.3" x2="369.65000000000003" y2="488.3" stroke="#111" stroke-width="1.5"/>
<rect x="365.45" y="530.75" width="5.80" height="60.65" fill="#787878" stroke="#606060" stroke-width="0.7"/>
<rect x="365.75" y="531.05" width="0.80" height="60.35" fill="#a4a4a4"/>
<rect x="370.15" y="531.05" width="0.80" height="60.35" fill="#a4a4a4"/>
<rect x="366.05" y="536.25" width="4.60" height="1.60" fill="#ffffff"/>
<rect x="366.05" y="543.12" width="4.60" height="1.60" fill="#ffffff"/>
<rect x="366.05" y="549.99" width="4.60" height="1.60" fill="#ffffff"/>
<rect x="366.05" y="556.86" width="4.60" height="1.60" fill="#ffffff"/>
<rect x="366.05" y="563.73" width="4.60" height="1.60" fill="#ffffff"/>
<rect x="366.05" y="570.60" width="4.60" height="1.60" fill="#ffffff"/>
<rect x="366.05" y="577.47" width="4.60" height="1.60" fill="#ffffff"/>
<rect x="366.05" y="584.34" width="4.60" height="1.60" fill="#ffffff"/>
<text x="368.35" y="480.5" font-size="10.8" text-anchor="middle">4</text>
<line x1="377.0" y1="545" x2="377.0" y2="557.75" stroke="#111" stroke-width="1.25"/>
<line x1="375.7" y1="545.2" x2="378.3" y2="545.2" stroke="#111" stroke-width="1.5"/>
<pattern id="p26" patternUnits="userSpaceOnUse" x="0" y="0.595" width="40" height="4.290" patternTransform="rotate(-40)"><rect width="40" height="4.290" fill="#d9d9d9"/><rect x="0" y="0" width="40" height="1.455" fill="#1a1a1a"/></pattern>
<rect x="374.10" y="556.75" width="5.80" height="34.65" fill="url(#p26)" stroke="#606060" stroke-width="0.7"/>
<text x="377.0" y="537.5" font-size="10.8" text-anchor="middle">7</text>
<line x1="385.65000000000003" y1="550" x2="385.65000000000003" y2="551.75" stroke="#111" stroke-width="1.25"/>
<line x1="384.35" y1="550.2" x2="386.95000000000005" y2="550.2" stroke="#111" stroke-width="1.5"/>
<rect x="382.55" y="550.75" width="6.20" height="40.65" fill="#595959"/>
<text x="385.65000000000003" y="542.5" font-size="10.8" text-anchor="middle">6</text>
<rect x="397.12" y="543.25" width="6.20" height="48.15" fill="#0a0a0a"/>
<text x="400.21999999999997" y="535.75" font-size="10.8" text-anchor="middle">1</text>
<line x1="408.87" y1="574.5" x2="408.87" y2="580.5" stroke="#111" stroke-width="1.25"/>
<line x1="407.57" y1="574.7" x2="410.17" y2="574.7" stroke="#111" stroke-width="1.5"/>
<pattern id="p27" patternUnits="userSpaceOnUse" x="0" y="3.075" width="40" height="4.079" patternTransform="rotate(44)"><rect width="40" height="4.079" fill="#949494"/><rect x="0" y="0" width="40" height="1.187" fill="#ffffff"/></pattern>
<rect x="405.97" y="579.50" width="5.80" height="11.90" fill="url(#p27)" stroke="#606060" stroke-width="0.7"/>
<text x="408.87" y="567" font-size="10.8" text-anchor="middle">4</text>
<line x1="417.52" y1="569.5" x2="417.52" y2="579" stroke="#111" stroke-width="1.25"/>
<line x1="416.21999999999997" y1="569.7" x2="418.82" y2="569.7" stroke="#111" stroke-width="1.5"/>
<rect x="414.62" y="578.00" width="5.80" height="13.40" fill="#787878" stroke="#606060" stroke-width="0.7"/>
<rect x="414.92" y="578.30" width="0.80" height="13.10" fill="#a4a4a4"/>
<rect x="419.32" y="578.30" width="0.80" height="13.10" fill="#a4a4a4"/>
<rect x="415.22" y="583.50" width="4.60" height="1.60" fill="#ffffff"/>
<text x="417.52" y="562.5" font-size="10.8" text-anchor="middle">4</text>
<line x1="426.16999999999996" y1="579.5" x2="426.16999999999996" y2="585.25" stroke="#111" stroke-width="1.25"/>
<line x1="424.86999999999995" y1="579.7" x2="427.46999999999997" y2="579.7" stroke="#111" stroke-width="1.5"/>
<pattern id="p28" patternUnits="userSpaceOnUse" x="0" y="2.172" width="40" height="4.290" patternTransform="rotate(-40)"><rect width="40" height="4.290" fill="#d9d9d9"/><rect x="0" y="0" width="40" height="1.455" fill="#1a1a1a"/></pattern>
<rect x="423.27" y="584.25" width="5.80" height="7.15" fill="url(#p28)" stroke="#606060" stroke-width="0.7"/>
<text x="426.16999999999996" y="572" font-size="10.8" text-anchor="middle">6</text>
<rect x="431.72" y="589.00" width="6.20" height="2.40" fill="#595959"/>
<text x="434.82" y="581.25" font-size="10.8" text-anchor="middle">6</text>
<line x1="99.0" y1="591.4" x2="441.3" y2="591.4" stroke="#1a1a1a" stroke-width="1.2"/>
<text x="3.55" y="649.7" font-size="20" text-anchor="start" font-weight="bold" class="b" textLength="13.9" lengthAdjust="spacingAndGlyphs">C</text>
<rect x="107.10" y="651.60" width="24.20" height="9.70" fill="#0a0a0a"/>
<text x="145.2" y="661.7" font-size="14.5" text-anchor="start" textLength="62.4" lengthAdjust="spacingAndGlyphs">10 mg OD</text>
<rect x="222.70" y="651.90" width="24.10" height="9.50" fill="url(#lAc2)" stroke="#6e6e6e" stroke-width="0.7"/>
<text x="260.5" y="661.7" font-size="14.5" text-anchor="start" textLength="62.2" lengthAdjust="spacingAndGlyphs">20 mg OD</text>
<rect x="341.30" y="651.50" width="24.40" height="10.00" fill="#727272" stroke="#5e5e5e" stroke-width="0.6"/>
<rect x="347.05" y="651.80" width="1.50" height="9.40" fill="#dedede"/>
<rect x="354.05" y="651.80" width="1.50" height="9.40" fill="#dedede"/>
<rect x="361.05" y="651.80" width="1.50" height="9.40" fill="#dedede"/>
<rect x="341.70" y="657.05" width="23.60" height="1.50" fill="#fbfbfb"/>
<text x="379.2" y="661.7" font-size="14.5" text-anchor="start" textLength="62.7" lengthAdjust="spacingAndGlyphs">30 mg OD</text>
<rect x="107.30" y="672.00" width="24.00" height="9.50" fill="url(#lBD15)" stroke="#5a5a5a" stroke-width="0.8"/>
<text x="145.2" y="681.7" font-size="14.5" text-anchor="start" textLength="60.0" lengthAdjust="spacingAndGlyphs">15 mg BD</text>
<rect x="222.50" y="671.70" width="24.30" height="9.80" fill="#595959"/>
<text x="260.2" y="681.7" font-size="14.5" text-anchor="start" textLength="61.7" lengthAdjust="spacingAndGlyphs">10 mg BD</text>
<line x1="98.2" y1="703.8" x2="98.2" y2="932.05" stroke="#1a1a1a" stroke-width="1.2"/>
<line x1="97.60000000000001" y1="931.5" x2="440.2" y2="931.5" stroke="#1a1a1a" stroke-width="1.2"/>
<line x1="89.2" y1="931.5" x2="98.2" y2="931.5" stroke="#1a1a1a" stroke-width="1.2"/>
<text x="86.5" y="935.7" font-size="12.1" text-anchor="end">0</text>
<line x1="89.2" y1="886.08" x2="98.2" y2="886.08" stroke="#1a1a1a" stroke-width="1.2"/>
<text x="86.5" y="890.2800000000001" font-size="12.1" text-anchor="end" textLength="14.6" lengthAdjust="spacingAndGlyphs">20</text>
<line x1="89.2" y1="840.66" x2="98.2" y2="840.66" stroke="#1a1a1a" stroke-width="1.2"/>
<text x="86.5" y="844.86" font-size="12.1" text-anchor="end" textLength="14.6" lengthAdjust="spacingAndGlyphs">40</text>
<line x1="89.2" y1="795.24" x2="98.2" y2="795.24" stroke="#1a1a1a" stroke-width="1.2"/>
<text x="86.5" y="799.44" font-size="12.1" text-anchor="end" textLength="14.6" lengthAdjust="spacingAndGlyphs">60</text>
<line x1="89.2" y1="749.8199999999999" x2="98.2" y2="749.8199999999999" stroke="#1a1a1a" stroke-width="1.2"/>
<text x="86.5" y="754.02" font-size="12.1" text-anchor="end" textLength="14.6" lengthAdjust="spacingAndGlyphs">80</text>
<line x1="89.2" y1="704.4" x2="98.2" y2="704.4" stroke="#1a1a1a" stroke-width="1.2"/>
<text x="86.5" y="708.6" font-size="12.1" text-anchor="end" textLength="21.4" lengthAdjust="spacingAndGlyphs">100</text>
<text x="53.5" y="819.3" font-size="16.6" text-anchor="middle" font-weight="bold" class="b" textLength="239.5" lengthAdjust="spacingAndGlyphs" transform="rotate(-90 53.5 819.3)">Patients with urinary effect (%)</text>
<line x1="121.1" y1="931.5" x2="121.1" y2="940.8" stroke="#1a1a1a" stroke-width="1.2"/>
<line x1="170.29" y1="931.5" x2="170.29" y2="940.8" stroke="#1a1a1a" stroke-width="1.2"/>
<line x1="219.48" y1="931.5" x2="219.48" y2="940.8" stroke="#1a1a1a" stroke-width="1.2"/>
<line x1="268.66999999999996" y1="931.5" x2="268.66999999999996" y2="940.8" stroke="#1a1a1a" stroke-width="1.2"/>
<line x1="317.86" y1="931.5" x2="317.86" y2="940.8" stroke="#1a1a1a" stroke-width="1.2"/>
<line x1="367.04999999999995" y1="931.5" x2="367.04999999999995" y2="940.8" stroke="#1a1a1a" stroke-width="1.2"/>
<line x1="416.24" y1="931.5" x2="416.24" y2="940.8" stroke="#1a1a1a" stroke-width="1.2"/>
<text x="120.65" y="957.9" font-size="14.4" text-anchor="middle" textLength="52.4" lengthAdjust="spacingAndGlyphs">Baseline</text>
<text x="169.84" y="957.9" font-size="14.4" text-anchor="middle" textLength="20.6" lengthAdjust="spacingAndGlyphs">D-7</text>
<text x="219.03" y="957.9" font-size="14.4" text-anchor="middle" textLength="33.5" lengthAdjust="spacingAndGlyphs">C1D1</text>
<text x="268.22" y="957.9" font-size="14.4" text-anchor="middle" textLength="34.2" lengthAdjust="spacingAndGlyphs">C1D8</text>
<text x="317.41" y="957.9" font-size="14.4" text-anchor="middle" textLength="41.2" lengthAdjust="spacingAndGlyphs">C1D15</text>
<text x="366.6" y="957.9" font-size="14.4" text-anchor="middle" textLength="41.7" lengthAdjust="spacingAndGlyphs">C1D22</text>
<text x="415.79" y="957.9" font-size="14.4" text-anchor="middle" textLength="48.3" lengthAdjust="spacingAndGlyphs">C1D29/</text>
<text x="416.19" y="969.8" font-size="14.4" text-anchor="middle" textLength="47.6" lengthAdjust="spacingAndGlyphs">off trial</text>
<pattern id="p29" patternUnits="userSpaceOnUse" x="0" y="3.872" width="40" height="4.236" patternTransform="rotate(-42)"><rect width="40" height="4.236" fill="#d9d9d9"/><rect x="0" y="0" width="40" height="1.486" fill="#111111"/></pattern>
<rect x="122.90" y="911.14" width="6.90" height="20.36" fill="url(#p29)" stroke="#606060" stroke-width="0.7"/>
<pattern id="p30" patternUnits="userSpaceOnUse" x="0" y="2.994" width="40" height="3.939" patternTransform="rotate(46)"><rect width="40" height="3.939" fill="#949494"/><rect x="0" y="0" width="40" height="1.285" fill="#ffffff"/></pattern>
<rect x="151.09" y="790.12" width="6.90" height="141.38" fill="url(#p30)" stroke="#606060" stroke-width="0.7"/>
<rect x="161.59" y="841.02" width="6.90" height="90.48" fill="#787878" stroke="#606060" stroke-width="0.7"/>
<rect x="161.89" y="841.32" width="0.80" height="90.18" fill="#a4a4a4"/>
<rect x="167.39" y="841.32" width="0.80" height="90.18" fill="#a4a4a4"/>
<rect x="162.19" y="846.37" width="5.70" height="1.70" fill="#ffffff"/>
<rect x="162.19" y="853.19" width="5.70" height="1.70" fill="#ffffff"/>
<rect x="162.19" y="860.01" width="5.70" height="1.70" fill="#ffffff"/>
<rect x="162.19" y="866.83" width="5.70" height="1.70" fill="#ffffff"/>
<rect x="162.19" y="873.65" width="5.70" height="1.70" fill="#ffffff"/>
<rect x="162.19" y="880.47" width="5.70" height="1.70" fill="#ffffff"/>
<rect x="162.19" y="887.29" width="5.70" height="1.70" fill="#ffffff"/>
<rect x="162.19" y="894.11" width="5.70" height="1.70" fill="#ffffff"/>
<rect x="162.19" y="900.93" width="5.70" height="1.70" fill="#ffffff"/>
<rect x="162.19" y="907.75" width="5.70" height="1.70" fill="#ffffff"/>
<rect x="162.19" y="914.57" width="5.70" height="1.70" fill="#ffffff"/>
<rect x="162.19" y="921.39" width="5.70" height="1.70" fill="#ffffff"/>
<rect x="162.19" y="928.21" width="5.70" height="1.70" fill="#ffffff"/>
<pattern id="p31" patternUnits="userSpaceOnUse" x="0" y="2.899" width="40" height="4.236" patternTransform="rotate(-42)"><rect width="40" height="4.236" fill="#d9d9d9"/><rect x="0" y="0" width="40" height="1.486" fill="#111111"/></pattern>
<rect x="172.09" y="856.18" width="6.90" height="75.32" fill="url(#p31)" stroke="#606060" stroke-width="0.7"/>
<rect x="182.29" y="834.23" width="8.10" height="97.27" fill="#595959"/>
<rect x="210.78" y="841.02" width="6.90" height="90.48" fill="#787878" stroke="#606060" stroke-width="0.7"/>
<rect x="211.08" y="841.32" width="0.80" height="90.18" fill="#a4a4a4"/>
<rect x="216.58" y="841.32" width="0.80" height="90.18" fill="#a4a4a4"/>
<rect x="211.38" y="846.37" width="5.70" height="1.70" fill="#ffffff"/>
<rect x="211.38" y="853.19" width="5.70" height="1.70" fill="#ffffff"/>
<rect x="211.38" y="860.01" width="5.70" height="1.70" fill="#ffffff"/>
<rect x="211.38" y="866.83" width="5.70" height="1.70" fill="#ffffff"/>
<rect x="211.38" y="873.65" width="5.70" height="1.70" fill="#ffffff"/>
<rect x="211.38" y="880.47" width="5.70" height="1.70" fill="#ffffff"/>
<rect x="211.38" y="887.29" width="5.70" height="1.70" fill="#ffffff"/>
<rect x="211.38" y="894.11" width="5.70" height="1.70" fill="#ffffff"/>
<rect x="211.38" y="900.93" width="5.70" height="1.70" fill="#ffffff"/>
<rect x="211.38" y="907.75" width="5.70" height="1.70" fill="#ffffff"/>
<rect x="211.38" y="914.57" width="5.70" height="1.70" fill="#ffffff"/>
<rect x="211.38" y="921.39" width="5.70" height="1.70" fill="#ffffff"/>
<rect x="211.38" y="928.21" width="5.70" height="1.70" fill="#ffffff"/>
<pattern id="p32" patternUnits="userSpaceOnUse" x="0" y="1.926" width="40" height="4.236" patternTransform="rotate(-42)"><rect width="40" height="4.236" fill="#d9d9d9"/><rect x="0" y="0" width="40" height="1.486" fill="#111111"/></pattern>
<rect x="221.28" y="911.14" width="6.90" height="20.36" fill="url(#p32)" stroke="#606060" stroke-width="0.7"/>
<rect x="231.48" y="856.18" width="8.10" height="75.32" fill="#595959"/>
<pattern id="p33" patternUnits="userSpaceOnUse" x="0" y="3.122" width="40" height="3.939" patternTransform="rotate(46)"><rect width="40" height="3.939" fill="#949494"/><rect x="0" y="0" width="40" height="1.285" fill="#ffffff"/></pattern>
<rect x="249.47" y="818.40" width="6.90" height="113.10" fill="url(#p33)" stroke="#606060" stroke-width="0.7"/>
<rect x="259.97" y="795.78" width="6.90" height="135.72" fill="#787878" stroke="#606060" stroke-width="0.7"/>
<rect x="260.27" y="796.08" width="0.80" height="135.42" fill="#a4a4a4"/>
<rect x="265.77" y="796.08" width="0.80" height="135.42" fill="#a4a4a4"/>
<rect x="260.57" y="801.13" width="5.70" height="1.70" fill="#ffffff"/>
<rect x="260.57" y="807.95" width="5.70" height="1.70" fill="#ffffff"/>
<rect x="260.57" y="814.77" width="5.70" height="1.70" fill="#ffffff"/>
<rect x="260.57" y="821.59" width="5.70" height="1.70" fill="#ffffff"/>
<rect x="260.57" y="828.41" width="5.70" height="1.70" fill="#ffffff"/>
<rect x="260.57" y="835.23" width="5.70" height="1.70" fill="#ffffff"/>
<rect x="260.57" y="842.05" width="5.70" height="1.70" fill="#ffffff"/>
<rect x="260.57" y="848.87" width="5.70" height="1.70" fill="#ffffff"/>
<rect x="260.57" y="855.69" width="5.70" height="1.70" fill="#ffffff"/>
<rect x="260.57" y="862.51" width="5.70" height="1.70" fill="#ffffff"/>
<rect x="260.57" y="869.33" width="5.70" height="1.70" fill="#ffffff"/>
<rect x="260.57" y="876.15" width="5.70" height="1.70" fill="#ffffff"/>
<rect x="260.57" y="882.97" width="5.70" height="1.70" fill="#ffffff"/>
<rect x="260.57" y="889.79" width="5.70" height="1.70" fill="#ffffff"/>
<rect x="260.57" y="896.61" width="5.70" height="1.70" fill="#ffffff"/>
<rect x="260.57" y="903.43" width="5.70" height="1.70" fill="#ffffff"/>
<rect x="260.57" y="910.25" width="5.70" height="1.70" fill="#ffffff"/>
<rect x="260.57" y="917.07" width="5.70" height="1.70" fill="#ffffff"/>
<rect x="260.57" y="923.89" width="5.70" height="1.70" fill="#ffffff"/>
<pattern id="p34" patternUnits="userSpaceOnUse" x="0" y="0.953" width="40" height="4.236" patternTransform="rotate(-42)"><rect width="40" height="4.236" fill="#d9d9d9"/><rect x="0" y="0" width="40" height="1.486" fill="#111111"/></pattern>
<rect x="270.47" y="831.07" width="6.90" height="100.43" fill="url(#p34)" stroke="#606060" stroke-width="0.7"/>
<rect x="280.67" y="856.18" width="8.10" height="75.32" fill="#595959"/>
<pattern id="p35" patternUnits="userSpaceOnUse" x="0" y="3.186" width="40" height="3.939" patternTransform="rotate(46)"><rect width="40" height="3.939" fill="#949494"/><rect x="0" y="0" width="40" height="1.285" fill="#ffffff"/></pattern>
<rect x="298.66" y="790.12" width="6.90" height="141.38" fill="url(#p35)" stroke="#606060" stroke-width="0.7"/>
<rect x="309.16" y="795.78" width="6.90" height="135.72" fill="#787878" stroke="#606060" stroke-width="0.7"/>
<rect x="309.46" y="796.08" width="0.80" height="135.42" fill="#a4a4a4"/>
<rect x="314.96" y="796.08" width="0.80" height="135.42" fill="#a4a4a4"/>
<rect x="309.76" y="801.13" width="5.70" height="1.70" fill="#ffffff"/>
<rect x="309.76" y="807.95" width="5.70" height="1.70" fill="#ffffff"/>
<rect x="309.76" y="814.77" width="5.70" height="1.70" fill="#ffffff"/>
<rect x="309.76" y="821.59" width="5.70" height="1.70" fill="#ffffff"/>
<rect x="309.76" y="828.41" width="5.70" height="1.70" fill="#ffffff"/>
<rect x="309.76" y="835.23" width="5.70" height="1.70" fill="#ffffff"/>
<rect x="309.76" y="842.05" width="5.70" height="1.70" fill="#ffffff"/>
<rect x="309.76" y="848.87" width="5.70" height="1.70" fill="#ffffff"/>
<rect x="309.76" y="855.69" width="5.70" height="1.70" fill="#ffffff"/>
<rect x="309.76" y="862.51" width="5.70" height="1.70" fill="#ffffff"/>
<rect x="309.76" y="869.33" width="5.70" height="1.70" fill="#ffffff"/>
<rect x="309.76" y="876.15" width="5.70" height="1.70" fill="#ffffff"/>
<rect x="309.76" y="882.97" width="5.70" height="1.70" fill="#ffffff"/>
<rect x="309.76" y="889.79" width="5.70" height="1.70" fill="#ffffff"/>
<rect x="309.76" y="896.61" width="5.70" height="1.70" fill="#ffffff"/>
<rect x="309.76" y="903.43" width="5.70" height="1.70" fill="#ffffff"/>
<rect x="309.76" y="910.25" width="5.70" height="1.70" fill="#ffffff"/>
<rect x="309.76" y="917.07" width="5.70" height="1.70" fill="#ffffff"/>
<rect x="309.76" y="923.89" width="5.70" height="1.70" fill="#ffffff"/>
<pattern id="p36" patternUnits="userSpaceOnUse" x="0" y="4.216" width="40" height="4.236" patternTransform="rotate(-42)"><rect width="40" height="4.236" fill="#d9d9d9"/><rect x="0" y="0" width="40" height="1.486" fill="#111111"/></pattern>
<rect x="319.66" y="818.40" width="6.90" height="113.10" fill="url(#p36)" stroke="#606060" stroke-width="0.7"/>
<rect x="329.86" y="818.40" width="8.10" height="113.10" fill="#595959"/>
<pattern id="p37" patternUnits="userSpaceOnUse" x="0" y="3.250" width="40" height="3.939" patternTransform="rotate(46)"><rect width="40" height="3.939" fill="#949494"/><rect x="0" y="0" width="40" height="1.285" fill="#ffffff"/></pattern>
<rect x="347.85" y="795.78" width="6.90" height="135.72" fill="url(#p37)" stroke="#606060" stroke-width="0.7"/>
<rect x="358.35" y="818.40" width="6.90" height="113.10" fill="#787878" stroke="#606060" stroke-width="0.7"/>
<rect x="358.65" y="818.70" width="0.80" height="112.80" fill="#a4a4a4"/>
<rect x="364.15" y="818.70" width="0.80" height="112.80" fill="#a4a4a4"/>
<rect x="358.95" y="823.75" width="5.70" height="1.70" fill="#ffffff"/>
<rect x="358.95" y="830.57" width="5.70" height="1.70" fill="#ffffff"/>
<rect x="358.95" y="837.39" width="5.70" height="1.70" fill="#ffffff"/>
<rect x="358.95" y="844.21" width="5.70" height="1.70" fill="#ffffff"/>
<rect x="358.95" y="851.03" width="5.70" height="1.70" fill="#ffffff"/>
<rect x="358.95" y="857.85" width="5.70" height="1.70" fill="#ffffff"/>
<rect x="358.95" y="864.67" width="5.70" height="1.70" fill="#ffffff"/>
<rect x="358.95" y="871.49" width="5.70" height="1.70" fill="#ffffff"/>
<rect x="358.95" y="878.31" width="5.70" height="1.70" fill="#ffffff"/>
<rect x="358.95" y="885.13" width="5.70" height="1.70" fill="#ffffff"/>
<rect x="358.95" y="891.95" width="5.70" height="1.70" fill="#ffffff"/>
<rect x="358.95" y="898.77" width="5.70" height="1.70" fill="#ffffff"/>
<rect x="358.95" y="905.59" width="5.70" height="1.70" fill="#ffffff"/>
<rect x="358.95" y="912.41" width="5.70" height="1.70" fill="#ffffff"/>
<rect x="358.95" y="919.23" width="5.70" height="1.70" fill="#ffffff"/>
<rect x="358.95" y="926.05" width="5.70" height="1.70" fill="#ffffff"/>
<pattern id="p38" patternUnits="userSpaceOnUse" x="0" y="3.243" width="40" height="4.236" patternTransform="rotate(-42)"><rect width="40" height="4.236" fill="#d9d9d9"/><rect x="0" y="0" width="40" height="1.486" fill="#111111"/></pattern>
<rect x="368.85" y="802.34" width="6.90" height="129.16" fill="url(#p38)" stroke="#606060" stroke-width="0.7"/>
<rect x="379.05" y="780.62" width="8.10" height="150.88" fill="#595959"/>
<pattern id="p39" patternUnits="userSpaceOnUse" x="0" y="3.314" width="40" height="3.939" patternTransform="rotate(46)"><rect width="40" height="3.939" fill="#949494"/><rect x="0" y="0" width="40" height="1.285" fill="#ffffff"/></pattern>
<rect x="397.04" y="874.95" width="6.90" height="56.55" fill="url(#p39)" stroke="#606060" stroke-width="0.7"/>
<rect x="407.54" y="874.95" width="6.90" height="56.55" fill="#787878" stroke="#606060" stroke-width="0.7"/>
<rect x="407.84" y="875.25" width="0.80" height="56.25" fill="#a4a4a4"/>
<rect x="413.34" y="875.25" width="0.80" height="56.25" fill="#a4a4a4"/>
<rect x="408.14" y="880.30" width="5.70" height="1.70" fill="#ffffff"/>
<rect x="408.14" y="887.12" width="5.70" height="1.70" fill="#ffffff"/>
<rect x="408.14" y="893.94" width="5.70" height="1.70" fill="#ffffff"/>
<rect x="408.14" y="900.76" width="5.70" height="1.70" fill="#ffffff"/>
<rect x="408.14" y="907.58" width="5.70" height="1.70" fill="#ffffff"/>
<rect x="408.14" y="914.40" width="5.70" height="1.70" fill="#ffffff"/>
<rect x="408.14" y="921.22" width="5.70" height="1.70" fill="#ffffff"/>
<rect x="408.14" y="928.04" width="5.70" height="1.70" fill="#ffffff"/>
<pattern id="p40" patternUnits="userSpaceOnUse" x="0" y="2.270" width="40" height="4.236" patternTransform="rotate(-42)"><rect width="40" height="4.236" fill="#d9d9d9"/><rect x="0" y="0" width="40" height="1.486" fill="#111111"/></pattern>
<rect x="418.04" y="893.72" width="6.90" height="37.78" fill="url(#p40)" stroke="#606060" stroke-width="0.7"/>
<line x1="97.60000000000001" y1="931.5" x2="440.2" y2="931.5" stroke="#1a1a1a" stroke-width="1.2"/>
<rect x="45.70" y="987.80" width="23.90" height="9.60" fill="url(#lAc3)" stroke="#6e6e6e" stroke-width="0.7"/>
<text x="84.0" y="997.8" font-size="14.5" text-anchor="start" textLength="62.2" lengthAdjust="spacingAndGlyphs">20 mg OD</text>
<rect x="162.50" y="987.60" width="24.40" height="10.00" fill="#727272" stroke="#5e5e5e" stroke-width="0.6"/>
<rect x="168.25" y="987.90" width="1.50" height="9.40" fill="#dedede"/>
<rect x="175.25" y="987.90" width="1.50" height="9.40" fill="#dedede"/>
<rect x="182.25" y="987.90" width="1.50" height="9.40" fill="#dedede"/>
<rect x="162.90" y="993.15" width="23.60" height="1.50" fill="#fbfbfb"/>
<text x="199.7" y="997.8" font-size="14.5" text-anchor="start" textLength="62.5" lengthAdjust="spacingAndGlyphs">30 mg OD</text>
<rect x="279.10" y="987.80" width="23.90" height="9.60" fill="url(#lBD15b)" stroke="#5a5a5a" stroke-width="0.8"/>
<text x="315.9" y="997.8" font-size="14.5" text-anchor="start" textLength="60.2" lengthAdjust="spacingAndGlyphs">15 mg BD</text>
<rect x="394.00" y="987.80" width="24.00" height="9.60" fill="#595959"/>
<text x="430.9" y="997.8" font-size="14.5" text-anchor="start" textLength="62.2" lengthAdjust="spacingAndGlyphs">10 mg BD</text>
</svg></body></html>
